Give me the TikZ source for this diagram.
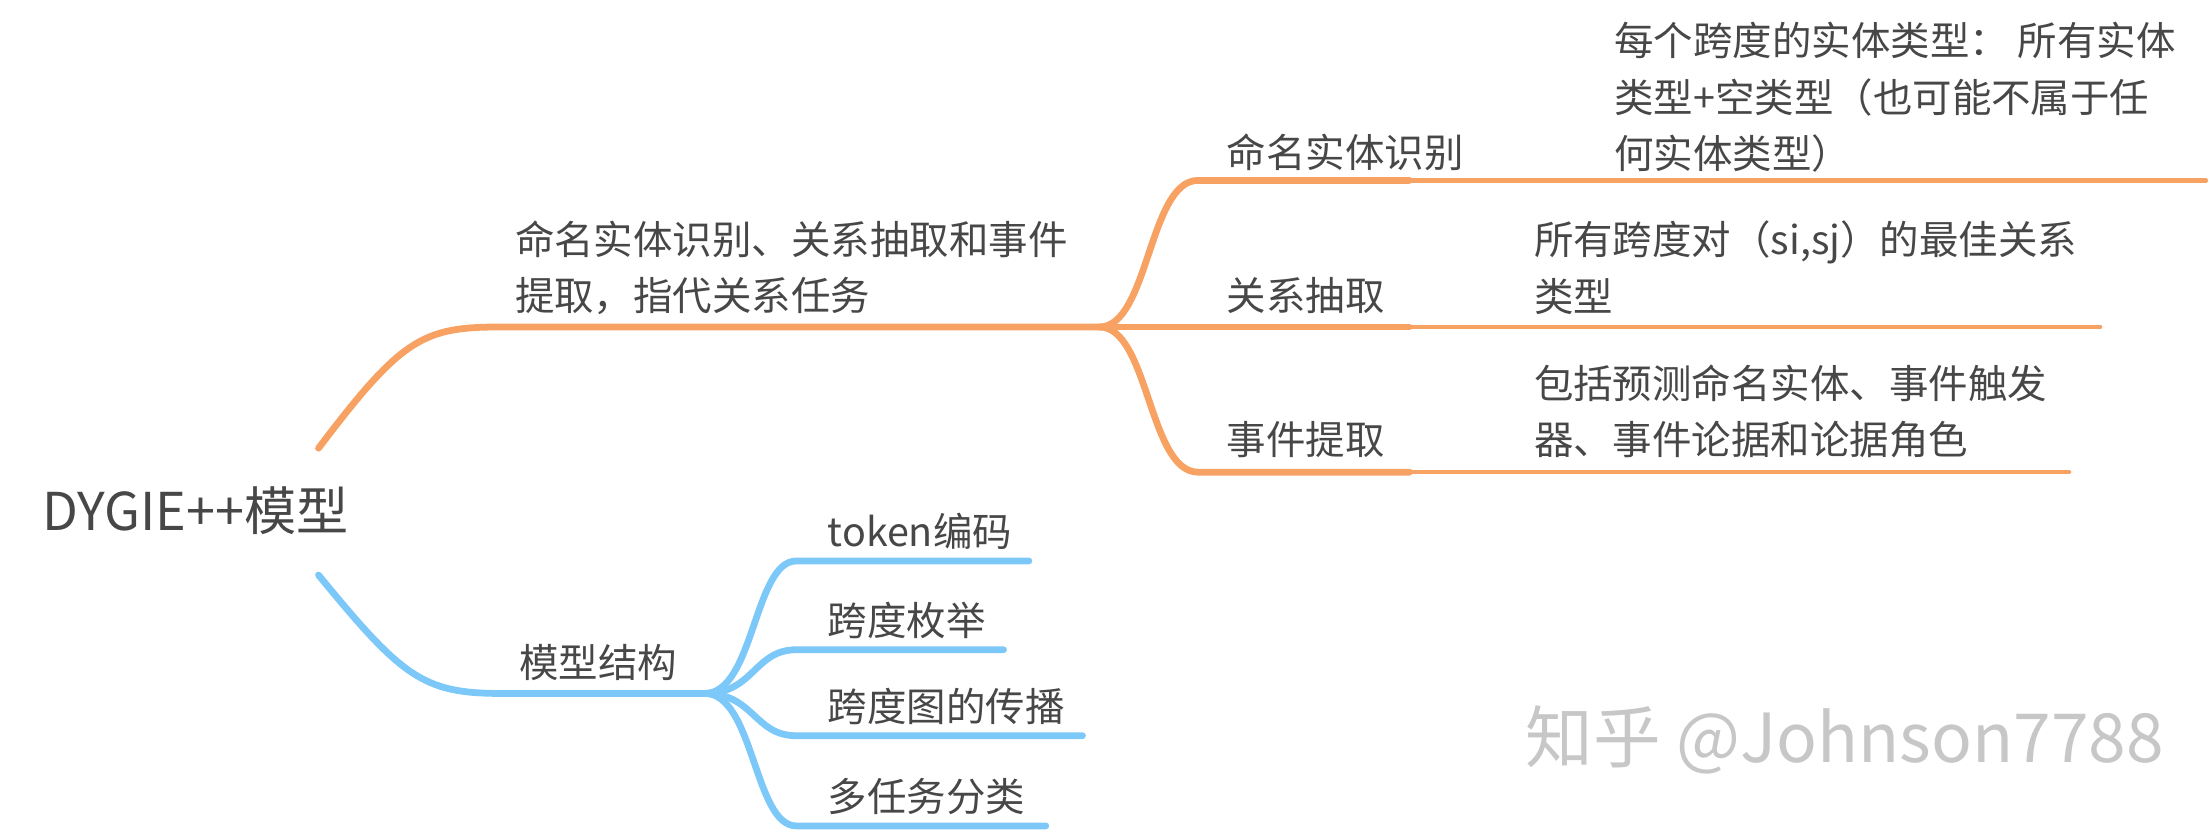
\documentclass[tikz,border=0pt]{standalone}
\usepackage{fontspec}
\setmainfont{Noto Sans CJK SC}
\begin{document}
\begin{tikzpicture}[x=0.5pt,y=-0.5pt]
\definecolor{org}{HTML}{F7A262}\definecolor{blu}{HTML}{7CC8F8}
\tikzset{
  txt/.style={anchor=west,text=black!72,font=\fontsize{14}{20}\selectfont,inner sep=0pt,align=left},
  ob/.style={draw=org,line width=2.4pt,line cap=round},
  obt/.style={draw=org,line width=1.6pt,line cap=round},
  bb/.style={draw=blu,line width=2.4pt,line cap=round}}
\useasboundingbox (0,0) rectangle (1568,592);
\node[txt,font=\fontsize{18.5}{20}\selectfont] (root) at (30,362) {DYGIE++模型};
\coordinate (o0) at (226,318); \coordinate (o1) at (355,232); \coordinate (o2) at (780,232);
\draw[ob] (o0) .. controls (285,240) and (300,232) .. (o1) -- (o2);
\node[txt] (t1) at (365,190) {命名实体识别、关系抽取和事件\\提取，指代关系任务};
\foreach \n/\y/\e in {a/128/1565,b/232/1490,c/335/1468}{
  \coordinate (\n0) at (850,\y); \coordinate (\n1) at (1000,\y); \coordinate (\n2) at (\e,\y);
  \draw[ob] (o2) .. controls (815,232) and (815,\y) .. (\n0) -- (\n1);
  \draw[obt] (\n1) -- (\n2);
}
\node[txt] (la) at (870,108) {命名实体识别};
\node[txt] (lb) at (870,210) {关系抽取};
\node[txt] (lc) at (870,312) {事件提取};
\node[txt] (da) at (1145,69) {每个跨度的实体类型： 所有实体\\类型+空类型（也可能不属于任\\何实体类型）};
\node[txt] (db) at (1088,190) {所有跨度对（si,sj）的最佳关系\\类型};
\node[txt] (dc) at (1088,292) {包括预测命名实体、事件触发\\器、事件论据和论据角色};
\coordinate (b0) at (226,408); \coordinate (b1) at (355,492); \coordinate (b2) at (500,492);
\draw[bb] (b0) .. controls (285,480) and (300,492) .. (b1) -- (b2);
\node[txt] (m) at (368,470) {模型结构};
\foreach \n/\y/\e/\t in {p/398/730/token编码,q/461/712/跨度枚举,r/522/768/跨度图的传播,s/586/742/多任务分类}{
  \coordinate (\n0) at (565,\y); \coordinate (\n1) at (\e,\y);
  \draw[bb] (b2) .. controls (535,492) and (535,\y) .. (\n0) -- (\n1);
  \node[txt] (\n t) at (587,\y-21) {\t};
}
\node[txt,text=black!22,font=\fontsize{24}{26}\selectfont] (wm) at (1082,525) {知乎 @Johnson7788};
\end{tikzpicture}
\end{document}
